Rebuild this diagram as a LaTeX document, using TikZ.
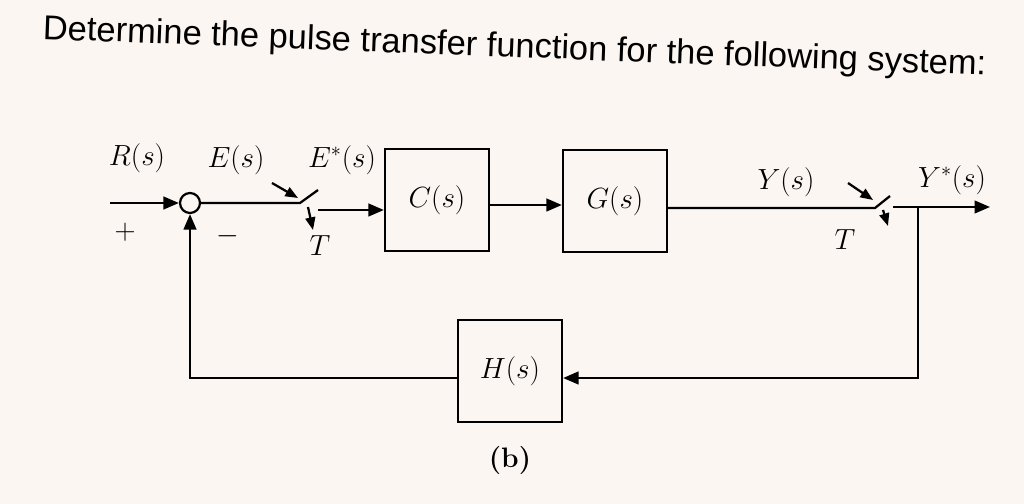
\documentclass[tikz,border=0pt]{standalone}
\usepackage{fontspec}
\newfontfamily\titlefont{Liberation Sans}
\usetikzlibrary{arrows.meta}
\begin{document}
\begin{tikzpicture}[x=0.025cm,y=-0.025cm,
  line/.style={line width=1.6pt},
  arr/.style={line width=1.6pt,-{Triangle[length=11pt,width=9pt]}},
  blk/.style={draw,line width=1.6pt,minimum width=2.6cm,minimum height=2.55cm,inner sep=0pt},
  lbl/.style={font=\fontsize{20pt}{24pt}\selectfont}]
\useasboundingbox[fill=white!93!brown] (0,0) rectangle (1024,504);
\node[rotate=-2.2,anchor=west,font=\titlefont\fontsize{24.5pt}{30pt}\selectfont] (title) at (38,30) {Determine the pulse transfer function for the following system:};
% summing junction
\node[draw,circle,line width=1.6pt,minimum size=0.5cm,inner sep=0pt] (sum) at (190,203) {};
\coordinate (rin) at (110,203);
\draw[arr] (rin) -- (sum);
\node[lbl] (rl) at (137,158) {$R(s)$};
\node[lbl] (plus) at (125,232) {$+$};
\node[lbl] (minus) at (228,236) {$-$};
% sampler 1
\coordinate (s1a) at (300,203);
\coordinate (s1b) at (318,190);
\coordinate (s1c) at (318,210);
\draw[line] (sum) -- (s1a) -- (s1b);
\coordinate (a1s) at (272,183); \coordinate (a1e) at (298,198);
\draw[line,-{Triangle[length=9pt,width=7pt]}] (a1s) -- (a1e);
\coordinate (d1s) at (308,207); \coordinate (d1e) at (313,230);
\draw[line,-{Triangle[length=9pt,width=7pt]}] (d1s) -- (d1e);
\node[lbl] (t1) at (320,246) {$T$};
\node[lbl] (el) at (236,160) {$E(s)$};
\node[lbl,inner sep=1pt] (esl) at (342,160) {$E^{*}(s)$};
% blocks
\node[blk] (C) at (437,200) {\fontsize{20pt}{24pt}\selectfont $C(s)$};
\node[blk] (G) at (615,201) {\fontsize{20pt}{24pt}\selectfont $G(s)$};
\node[blk] (H) at (510,371) {\fontsize{20pt}{24pt}\selectfont $H(s)$};
\draw[arr] (s1c) -- (s1c -| C.west);
\draw[arr] (C.east |- 0,205) -- (G.west |- 0,205);
% sampler 2
\coordinate (s2a) at (875,208);
\coordinate (s2b) at (890,196);
\coordinate (s2c) at (893,207);
\draw[line] (G.east |- s2a) -- (s2a) -- (s2b);
\coordinate (a2s) at (848,183); \coordinate (a2e) at (873,200);
\draw[line,-{Triangle[length=9pt,width=7pt]}] (a2s) -- (a2e);
\coordinate (d2s) at (883,210); \coordinate (d2e) at (888,226);
\draw[line,-{Triangle[length=9pt,width=7pt]}] (d2s) -- (d2e);
\node[lbl] (t2) at (845,240) {$T$};
\node[lbl] (yl) at (786,182) {$Y(s)$};
\node[lbl,inner sep=1pt] (ysl) at (952,180) {$Y^{*}(s)$};
\coordinate (yout) at (990,207);
\draw[arr] (s2c) -- (yout);
% feedback
\coordinate (br) at (918,207);
\draw[arr] (br) -- (918,378) -- (H.east |- 0,378);
\draw[arr] (H.west |- 0,378) -- (190,378) -- (sum.south);
\node[font=\fontsize{20pt}{24pt}\selectfont\bfseries] (b) at (510,460) {(b)};
\end{tikzpicture}
\end{document}
